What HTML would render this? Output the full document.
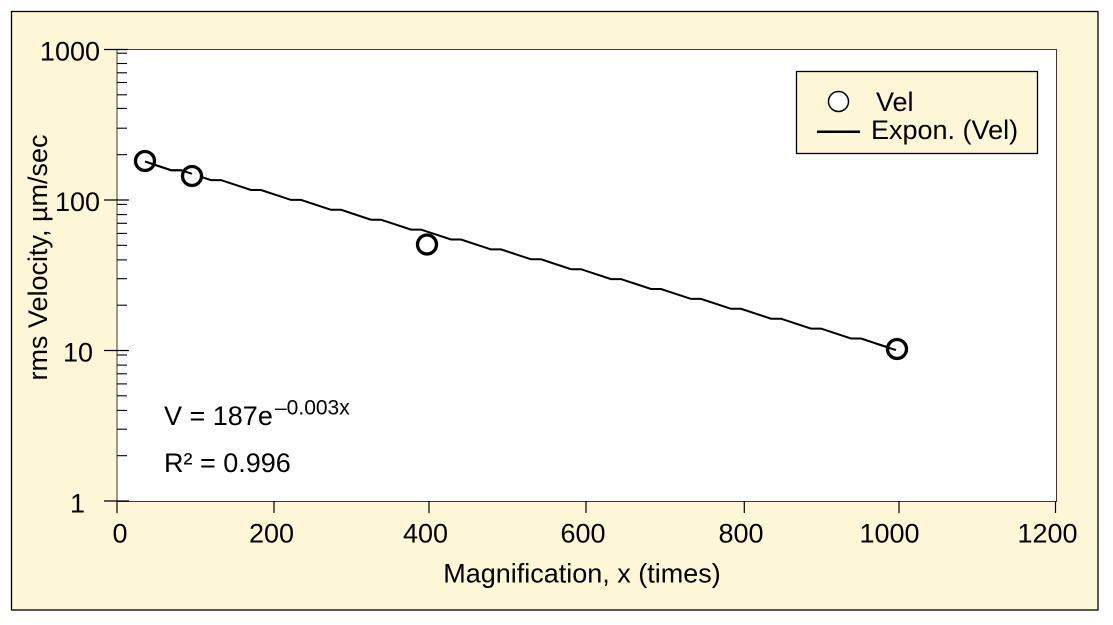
<!DOCTYPE html>
<html>
<head>
<meta charset="utf-8">
<style>
  html, body { margin: 0; padding: 0; background: #ffffff; }
  svg { display: block; }
  text { font-family: "Liberation Sans", Arial, Helvetica, sans-serif; fill: #000; }
</style>
</head>
<body>
<svg width="1113" height="625" viewBox="0 0 1113 625" xmlns="http://www.w3.org/2000/svg">
  <!-- outer frame -->
  <rect x="11.5" y="11.5" width="1086.5" height="598.5" fill="#FDF7D7" stroke="#000" stroke-width="1.3"/>
  <!-- plot area -->
  <rect x="117" y="49.5" width="939.5" height="452" fill="#ffffff" stroke="#3a3a3a" stroke-width="1"/>

  <!-- y major ticks -->
  <g stroke="#000" stroke-width="1.2">
    <line x1="104" y1="49.5" x2="128" y2="49.5"/>
    <line x1="104" y1="200" x2="129" y2="200"/>
    <line x1="104" y1="350.5" x2="129" y2="350.5"/>
    <line x1="104" y1="501" x2="129" y2="501"/>
  </g>
  <!-- y minor ticks -->
  <g stroke="#000" stroke-width="1.1">
    <line x1="117" y1="455.7" x2="127" y2="455.7"/>
    <line x1="117" y1="429.2" x2="127" y2="429.2"/>
    <line x1="117" y1="410.4" x2="127" y2="410.4"/>
    <line x1="117" y1="395.8" x2="127" y2="395.8"/>
    <line x1="117" y1="383.9" x2="127" y2="383.9"/>
    <line x1="117" y1="373.8" x2="127" y2="373.8"/>
    <line x1="117" y1="365.1" x2="127" y2="365.1"/>
    <line x1="117" y1="355.0" x2="127" y2="355.0"/>

    <line x1="117" y1="305.2" x2="127" y2="305.2"/>
    <line x1="117" y1="278.7" x2="127" y2="278.7"/>
    <line x1="117" y1="259.9" x2="127" y2="259.9"/>
    <line x1="117" y1="245.3" x2="127" y2="245.3"/>
    <line x1="117" y1="233.4" x2="127" y2="233.4"/>
    <line x1="117" y1="223.3" x2="127" y2="223.3"/>
    <line x1="117" y1="214.6" x2="127" y2="214.6"/>
    <line x1="117" y1="204.4" x2="127" y2="204.4"/>

    <line x1="117" y1="154.7" x2="127" y2="154.7"/>
    <line x1="117" y1="128.2" x2="127" y2="128.2"/>
    <line x1="117" y1="108.4" x2="127" y2="108.4"/>
    <line x1="117" y1="94.8" x2="127" y2="94.8"/>
    <line x1="117" y1="82.5" x2="127" y2="82.5"/>
    <line x1="117" y1="72.8" x2="127" y2="72.8"/>
    <line x1="117" y1="63.5" x2="127" y2="63.5"/>
    <line x1="117" y1="53.2" x2="127" y2="53.2"/>
  </g>

  <!-- x ticks -->
  <g stroke="#000" stroke-width="1.2">
    <line x1="117" y1="501" x2="117" y2="513"/>
    <line x1="274" y1="501" x2="274" y2="513"/>
    <line x1="429" y1="501" x2="429" y2="513"/>
    <line x1="586" y1="501" x2="586" y2="513"/>
    <line x1="744.3" y1="501" x2="744.3" y2="513"/>
    <line x1="899" y1="501" x2="899" y2="513"/>
    <line x1="1055.5" y1="501" x2="1055.5" y2="513"/>
  </g>

  <!-- y tick labels -->
  <g font-size="27">
    <text x="100" y="60.5" text-anchor="end">1000</text>
    <text x="100" y="211" text-anchor="end">100</text>
    <text x="93" y="361.5" text-anchor="end">10</text>
    <text x="85" y="512.5" text-anchor="end">1</text>
  </g>

  <!-- x tick labels -->
  <g font-size="27" text-anchor="middle">
    <text x="120" y="542.5">0</text>
    <text x="271.5" y="542.5">200</text>
    <text x="425.5" y="542.5">400</text>
    <text x="583" y="542.5">600</text>
    <text x="741" y="542.5">800</text>
    <text x="889.5" y="542.5">1000</text>
    <text x="1047.5" y="542.5">1200</text>
  </g>

  <!-- axis titles -->
  <text x="582" y="582.5" font-size="27" text-anchor="middle">Magnification, x (times)</text>
  <text transform="translate(47,257.5) rotate(-90)" font-size="27" text-anchor="middle">rms Velocity, µm/sec</text>

  <!-- equation -->
  <text x="164" y="425" font-size="27">V = 187e</text>
  <text x="275" y="414.5" font-size="21">–0.003x</text>
  <text x="164" y="472" font-size="27">R² = 0.996</text>

  <!-- trendline -->
  <path d="M145,161.5 l26,8.7
    h10 l30,9.9 h10 l30,9.9 h10 l30,9.9 h10 l30,9.9 h10 l30,9.9 h10 l30,9.9
    h10 l30,9.9 h10 l30,9.9 h10 l30,9.9 h10 l30,9.9 h10 l30,9.9 h10 l30,9.9
    h10 l30,9.9 h10 l30,9.9 h10 l30,9.9 h10 l30,9.9 h10 l30,9.9 h10 l30,9.9
    l5,1.6"
    fill="none" stroke="#000" stroke-width="2" stroke-linejoin="miter"/>

  <!-- data markers -->
  <g fill="#ffffff" stroke="#000" stroke-width="3.3">
    <circle cx="145" cy="161" r="9.5"/>
    <circle cx="192" cy="176" r="9.5"/>
    <circle cx="427" cy="244.5" r="9.5"/>
    <circle cx="897" cy="349" r="9.5"/>
  </g>
  <!-- line segments drawn over markers (line passes through) -->
  <path d="M145,161.5 l26,8.7 h10 l11,3.6" fill="none" stroke="#000" stroke-width="2"/>
  <path d="M876,343.6 l15,4.9 l5,1.6" fill="none" stroke="#000" stroke-width="2"/>

  <!-- legend -->
  <rect x="796.5" y="71.5" width="241" height="82" fill="#FDF7D7" stroke="#000" stroke-width="1.3"/>
  <circle cx="838.5" cy="101.5" r="10" fill="#ffffff" stroke="#000" stroke-width="1.5"/>
  <line x1="817" y1="131.7" x2="860" y2="131.7" stroke="#000" stroke-width="2.5"/>
  <text x="876" y="111" font-size="27">Vel</text>
  <text x="871" y="139" font-size="27">Expon. (Vel)</text>
</svg>
</body>
</html>
